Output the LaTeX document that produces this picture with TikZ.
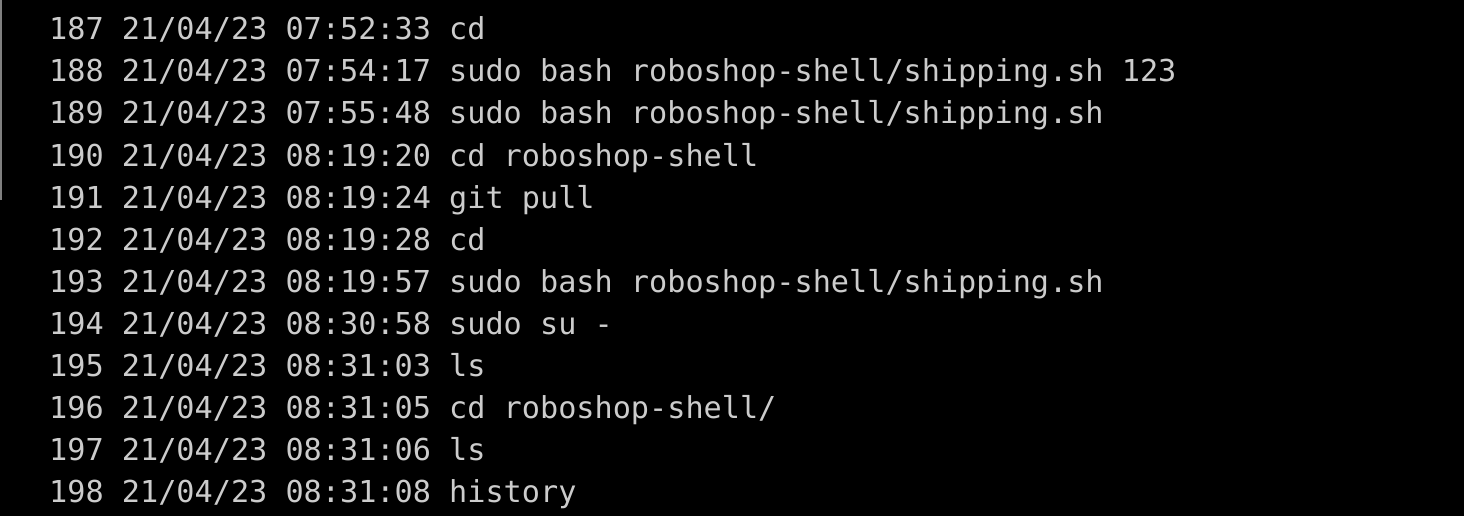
\documentclass[tikz,border=0pt]{standalone}
\usepackage{fontspec}
\newfontfamily\termfont{DejaVu Sans Mono}
\definecolor{termfg}{RGB}{204,204,204}
\begin{document}
\begin{tikzpicture}[x=1pt,y=-1pt,
  line/.style={anchor=base west,inner sep=0pt,text=termfg,font=\termfont\fontsize{30.2}{30.2}\selectfont}]
\fill[black] (0,0) rectangle (1464,516);
\useasboundingbox (0,0) rectangle (1464,516);
\draw[gray,line width=1.5pt] (1,0) -- (1,200);
\foreach \t [count=\i from 0] in {
{187  21/04/23 07:52:33 cd},
{188  21/04/23 07:54:17 sudo bash roboshop-shell/shipping.sh 123},
{189  21/04/23 07:55:48 sudo bash roboshop-shell/shipping.sh},
{190  21/04/23 08:19:20 cd roboshop-shell},
{191  21/04/23 08:19:24 git pull},
{192  21/04/23 08:19:28 cd},
{193  21/04/23 08:19:57 sudo bash roboshop-shell/shipping.sh},
{194  21/04/23 08:30:58 sudo su -},
{195  21/04/23 08:31:03 ls},
{196  21/04/23 08:31:05 cd roboshop-shell/},
{197  21/04/23 08:31:06 ls},
{198  21/04/23 08:31:08 history}}
  \node[line] (l\i) at (49,{40+42*\i}) {\obeyspaces\t};
\end{tikzpicture}
\end{document}
